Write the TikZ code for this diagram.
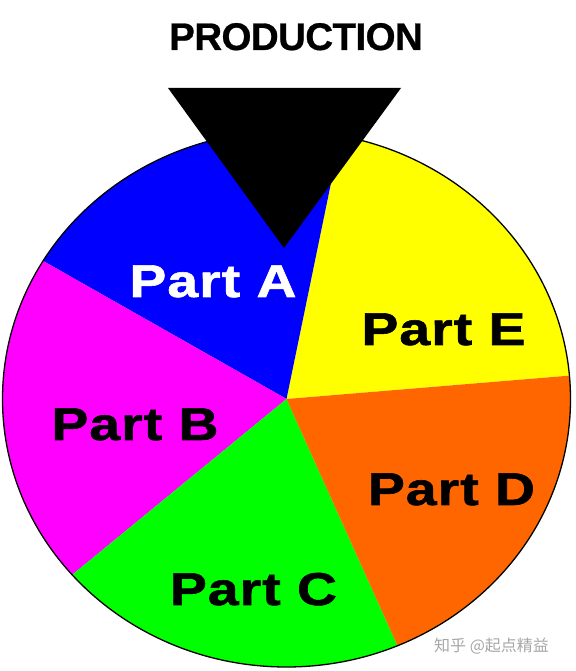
\documentclass[tikz,border=0pt]{standalone}
\usepackage{fontspec}
\usetikzlibrary{calc}
\setmainfont{Liberation Sans}
\newfontfamily\partfont[LetterSpace=2,BoldFeatures={FakeBold=1.2}]{Liberation Sans}
\newfontfamily\titlefont[LetterSpace=-1.5,BoldFeatures={FakeBold=0.7}]{Liberation Sans}
\newfontfamily\cjkfont{Noto Sans CJK SC}
\newcommand{\widetext}[1]{\scalebox{1.2}[1]{#1}}
\definecolor{secblue}{HTML}{0000FF}
\definecolor{secyellow}{HTML}{FFFF00}
\definecolor{secmagenta}{HTML}{FF00FF}
\definecolor{secgreen}{HTML}{00FF00}
\definecolor{secorange}{HTML}{FF6600}
\begin{document}
\begin{tikzpicture}[x=1pt,y=1pt,
  sector/.style={draw=none},
  partlabel/.style={inner sep=0pt, anchor=base, font=\partfont\bfseries\fontsize{46}{46}\selectfont},
  titlelabel/.style={inner sep=0pt, anchor=base, font=\titlefont\bfseries\fontsize{38.5}{38.5}\selectfont},
  pointer/.style={fill=black, draw=none}]
\path[use as bounding box] (0,0) rectangle (575,671);
\def\cx{286.5}\def\cy{272}\def\ra{284}\def\rb{268}
\coordinate (ctr) at (\cx,\cy);
% sectors
\foreach \sa/\ea/\col in {5/79/secyellow, 79/149/secblue, 149/221/secmagenta, 221/293/secgreen, 293/365/secorange}{
  \fill[sector, fill=\col] (ctr) -- ($(ctr)+({\ra*cos(\sa)},{\rb*sin(\sa)})$)
    arc[start angle=\sa, end angle=\ea, x radius=\ra, y radius=\rb] -- cycle;
}
% outline
\draw[line width=1.3pt] (ctr) ellipse[x radius=\ra, y radius=\rb];
% pointer triangle
\coordinate (tl) at (168,583);
\coordinate (tr) at (401,583);
\coordinate (tp) at (284,423);
\fill[pointer] (tl) -- (tr) -- (tp) -- cycle;
% labels
\node[titlelabel] (title) at (296,621) {PRODUCTION};
\node[partlabel, text=white] (pa) at (213,374) {\widetext{Part A}};
\node[partlabel] (pe) at (443.5,326) {\widetext{Part E}};
\node[partlabel] (pb) at (135,231) {\widetext{Part B}};
\node[partlabel] (pd) at (451.5,166) {\widetext{Part D}};
\node[partlabel] (pc) at (253.5,66) {\widetext{Part C}};
% watermark
\node[inner sep=0pt, anchor=west, text=black!35, font=\cjkfont\fontsize{16}{16}\selectfont] (wm) at (434,25) {知乎 @起点精益};
\end{tikzpicture}
\end{document}
